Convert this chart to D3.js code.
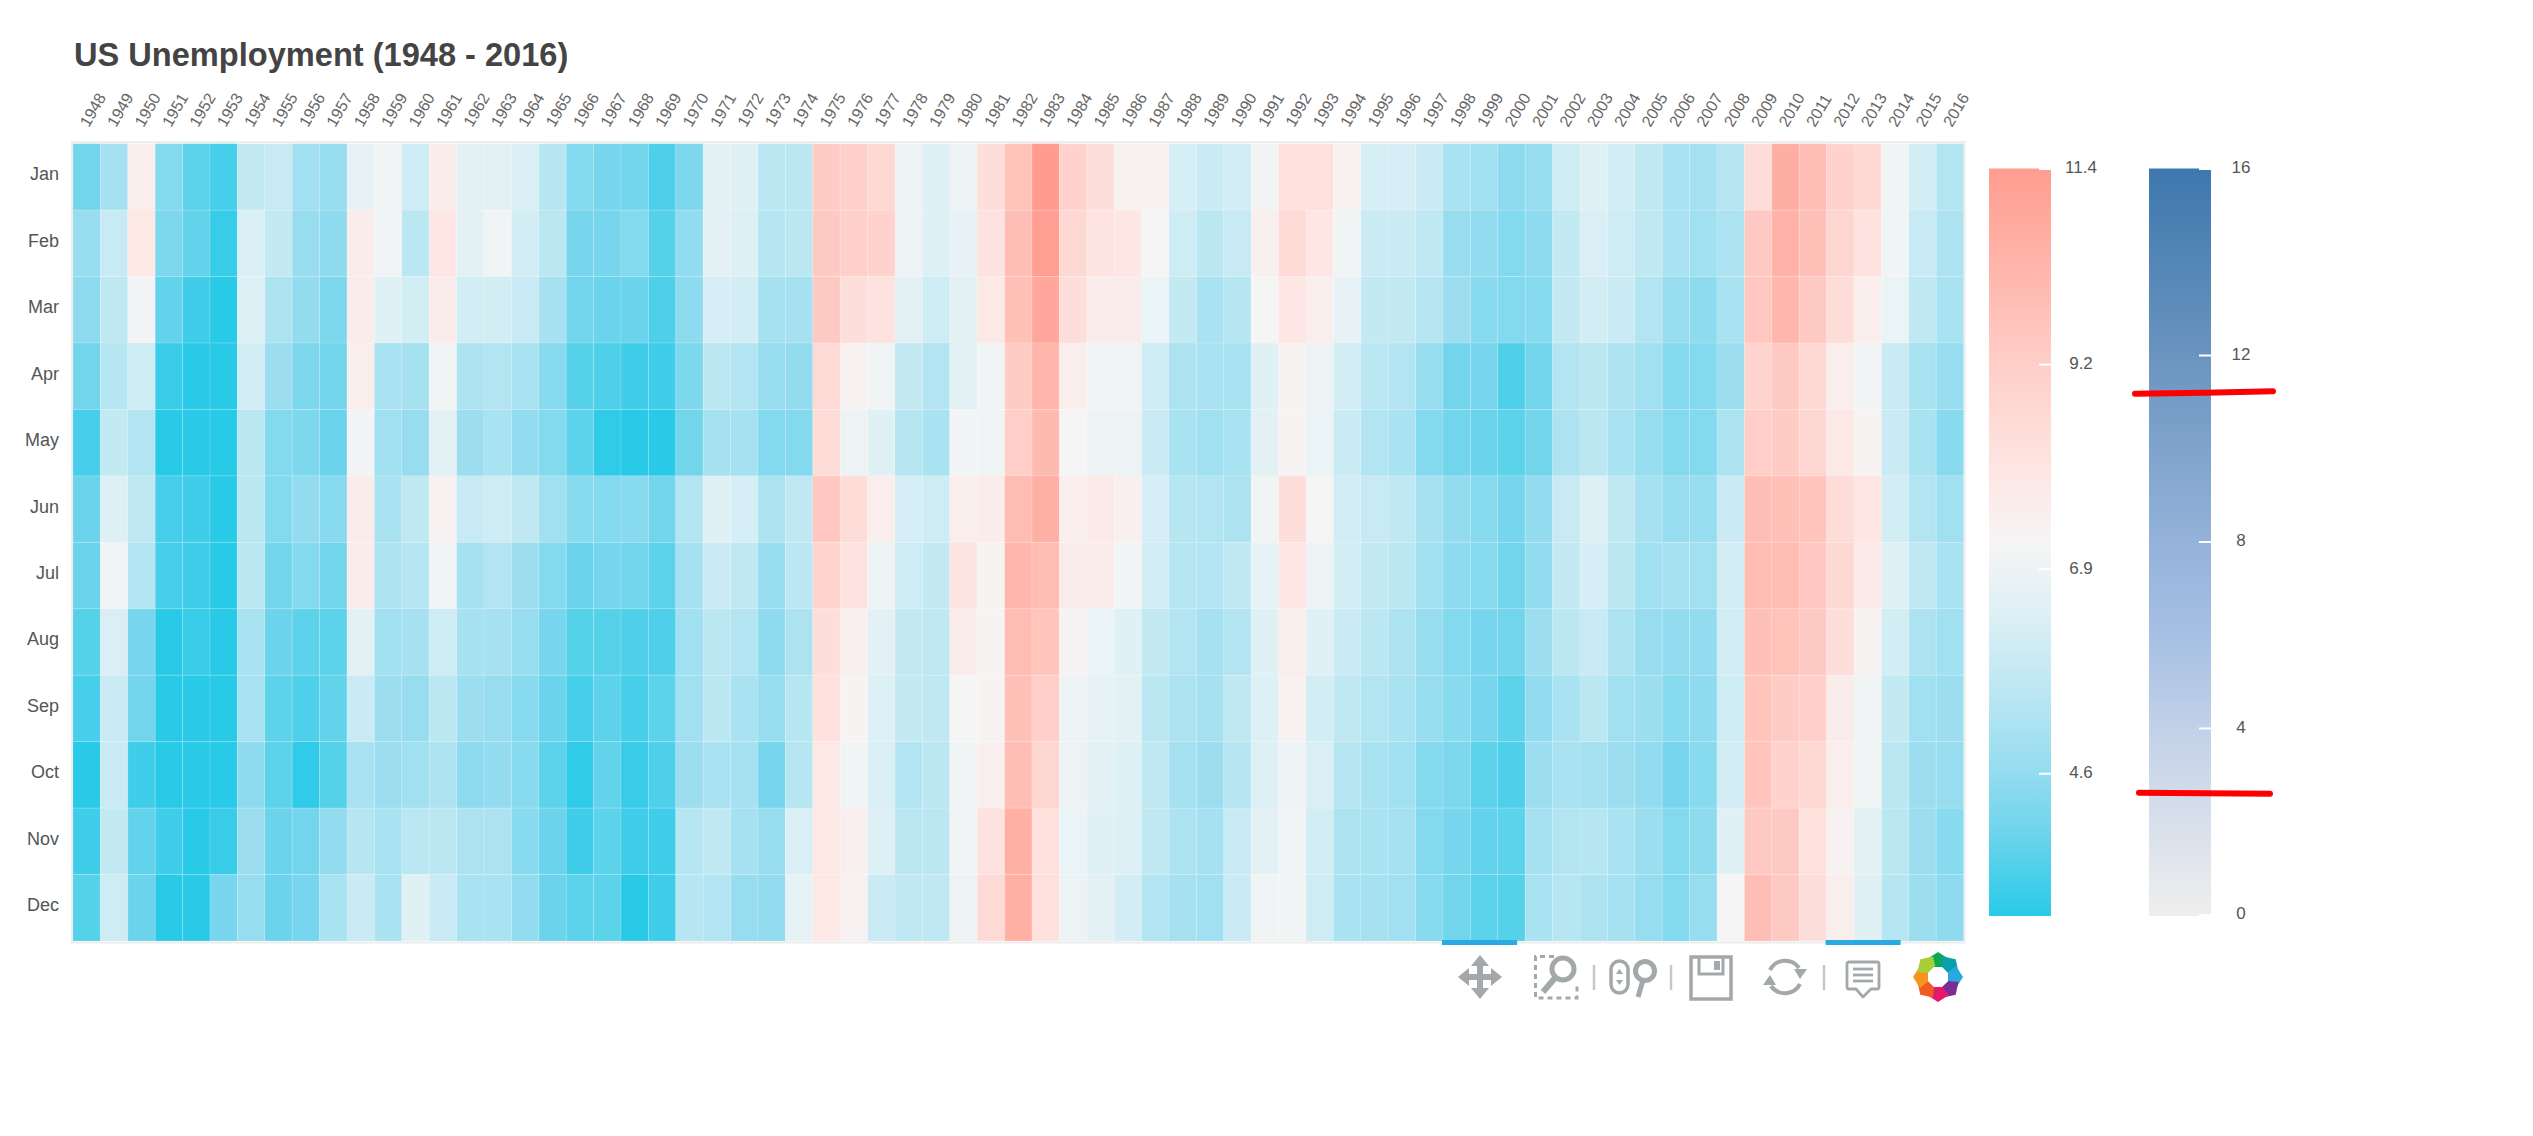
<!DOCTYPE html>
<html>
<head>
<meta charset="utf-8">
<title>US Unemployment (1948 - 2016)</title>
<script src="https://cdn.jsdelivr.net/npm/d3@7/dist/d3.min.js"></script>
<style>
html,body{margin:0;padding:0;background:#fff;overflow:hidden}
svg{display:block;font-family:"Liberation Sans",Arial,sans-serif}
.axis path,.axis line{display:none}
</style>
</head>
<body>
<svg id="c" width="2533" height="1136"></svg>
<script>
const chartTitle = "US Unemployment (1948 - 2016)";
const months = ["Jan","Feb","Mar","Apr","May","Jun","Jul","Aug","Sep","Oct","Nov","Dec"];
const years = d3.range(1948, 2017).map(String);
const rates = [
[4.0,4.7,4.5,4.0,3.4,3.9,3.9,3.6,3.4,2.9,3.3,3.6],
[5.0,5.8,5.6,5.4,5.7,6.4,7.0,6.3,5.9,5.9,5.7,6.0],
[7.6,7.9,7.1,6.0,5.3,5.6,5.3,4.1,4.0,3.3,3.8,3.9],
[4.3,4.2,3.8,3.2,2.9,3.4,3.4,3.0,2.9,2.9,3.3,2.9],
[3.7,3.8,3.3,2.9,2.9,3.3,3.3,3.2,2.9,2.9,2.9,2.9],
[3.4,3.2,2.9,2.9,2.9,2.9,2.9,2.9,2.9,2.9,3.2,4.1],
[5.7,6.3,6.4,6.1,5.5,5.5,5.5,5.1,5.1,4.5,4.8,4.7],
[5.8,5.7,5.2,4.8,4.3,4.3,4.0,3.9,3.7,3.7,3.9,3.9],
[4.9,4.7,4.6,4.2,4.2,4.6,4.3,3.7,3.5,3.1,4.0,4.1],
[4.7,4.5,4.2,4.0,3.9,4.4,4.0,3.7,3.8,3.6,4.6,5.1],
[6.7,7.7,7.7,7.6,7.1,7.7,7.7,6.6,5.9,5.1,5.4,5.9],
[7.0,7.0,6.5,5.1,4.9,5.1,5.2,4.9,4.8,4.8,5.1,5.1],
[6.0,5.5,6.1,5.0,4.7,5.6,5.4,5.0,4.7,4.9,5.5,6.5],
[7.7,8.0,7.7,7.0,6.6,7.4,7.0,6.0,5.5,5.2,5.5,5.8],
[6.6,6.6,6.1,5.2,4.8,5.8,5.0,5.0,4.8,4.5,5.2,5.1],
[6.6,7.0,6.1,5.3,5.1,6.0,5.3,5.0,4.7,4.6,5.2,5.1],
[6.3,6.1,5.8,5.1,4.6,5.6,4.8,4.7,4.4,4.4,4.4,4.6],
[5.4,5.5,5.0,4.4,4.3,4.9,4.3,4.1,3.9,3.7,3.9,3.9],
[4.3,4.1,4.0,3.6,3.7,4.4,3.9,3.6,3.4,3.1,3.3,3.7],
[4.1,4.1,3.9,3.5,3.1,4.3,4.1,3.6,3.7,3.8,3.7,3.7],
[4.0,4.3,3.9,3.3,2.9,4.4,4.0,3.5,3.4,3.2,3.3,3.0],
[3.5,3.6,3.5,3.3,2.9,4.0,3.7,3.5,3.7,3.5,3.3,3.3],
[4.2,4.6,4.5,4.2,4.0,5.3,5.0,4.9,4.9,4.8,5.4,5.4],
[6.6,6.6,6.2,5.5,5.0,6.5,5.9,5.5,5.5,5.1,5.6,5.3],
[6.5,6.4,6.1,5.3,5.0,6.2,5.6,5.3,5.1,5.0,5.0,4.7],
[5.5,5.4,5.0,4.7,4.3,5.2,4.7,4.5,4.7,4.1,4.7,4.6],
[5.5,5.5,5.0,4.6,4.3,5.6,5.5,5.2,5.4,5.4,6.3,6.7],
[9.3,9.4,9.4,8.6,8.5,9.5,8.9,8.4,8.3,7.9,7.9,7.9],
[9.1,9.1,8.4,7.4,6.9,8.5,8.2,7.5,7.3,7.0,7.5,7.4],
[8.7,9.0,8.2,7.0,6.5,7.6,6.9,6.6,6.4,6.3,6.4,5.9],
[6.9,6.9,6.6,5.7,5.4,6.2,6.0,5.7,5.7,5.3,5.5,5.6],
[6.4,6.4,6.0,5.3,5.1,6.0,5.7,5.6,5.6,5.5,5.5,5.6],
[6.9,6.7,6.6,6.6,7.1,7.6,8.1,7.7,7.2,7.0,7.0,6.9],
[8.4,8.2,7.9,7.0,7.0,7.7,7.3,7.3,7.3,7.5,8.2,8.6],
[9.7,9.9,9.8,9.3,9.2,10.0,10.2,10.0,9.8,9.9,10.5,10.5],
[11.4,11.3,10.9,10.3,10.1,10.5,10.0,9.6,9.2,8.8,8.3,8.3],
[9.0,8.7,8.4,7.6,7.2,7.6,7.7,7.3,6.9,6.9,6.8,6.9],
[8.4,8.1,7.7,7.0,6.9,7.8,7.7,6.8,6.7,6.6,6.5,6.6],
[7.4,8.0,7.7,7.0,6.9,7.5,7.1,6.5,6.6,6.4,6.4,6.1],
[7.4,7.2,6.8,6.0,5.9,6.2,6.1,5.7,5.5,5.6,5.6,5.3],
[6.2,6.0,5.7,5.2,5.1,5.4,5.4,5.3,5.2,5.0,5.2,5.0],
[5.9,5.5,5.1,5.1,4.9,5.3,5.3,5.0,5.0,4.8,5.0,4.9],
[6.1,5.8,5.4,5.1,5.1,5.2,5.6,5.3,5.6,5.4,5.8,5.9],
[7.0,7.5,7.2,6.5,6.6,7.0,6.7,6.5,6.4,6.4,6.6,7.0],
[8.3,8.6,8.0,7.3,7.3,8.4,8.0,7.6,7.4,6.9,7.0,7.0],
[8.3,8.0,7.6,6.9,6.8,7.2,6.9,6.5,6.1,6.3,6.1,6.0],
[7.4,7.0,6.7,6.1,5.9,6.1,6.1,5.9,5.6,5.4,5.2,5.1],
[6.2,5.9,5.7,5.5,5.3,5.8,5.7,5.5,5.3,5.1,5.1,5.0],
[6.2,5.9,5.7,5.3,5.1,5.6,5.5,5.2,5.1,4.9,5.0,4.9],
[5.9,5.6,5.4,4.7,4.3,5.0,4.9,4.7,4.7,4.3,4.3,4.4],
[5.1,4.7,4.8,4.0,4.0,4.6,4.5,4.3,4.4,4.2,4.1,4.0],
[4.9,4.6,4.4,4.1,3.9,4.4,4.4,4.1,4.1,3.7,3.8,3.7],
[4.5,4.3,4.3,3.5,3.7,4.1,4.0,4.0,3.7,3.5,3.7,3.6],
[4.7,4.5,4.4,4.0,4.0,4.6,4.6,4.8,4.6,4.8,5.0,5.1],
[6.0,5.7,5.7,5.3,5.2,5.8,5.7,5.5,5.1,5.1,5.3,5.4],
[6.5,6.3,6.1,5.5,5.5,6.4,6.2,5.8,5.5,5.0,5.4,5.2],
[6.1,6.0,5.9,5.2,5.1,5.6,5.5,5.2,4.9,4.8,5.1,5.0],
[5.6,5.6,5.3,4.9,4.7,5.0,4.9,4.7,4.8,4.6,4.8,4.7],
[5.1,5.1,4.7,4.3,4.3,4.7,5.0,4.6,4.4,4.1,4.3,4.3],
[5.0,4.9,4.5,4.3,4.3,4.7,4.9,4.6,4.5,4.4,4.5,4.7],
[5.4,5.2,5.1,4.8,5.2,5.9,6.1,6.1,6.0,6.1,6.5,7.2],
[8.5,9.4,9.5,8.9,9.2,9.9,10.0,9.8,9.6,9.6,9.4,9.9],
[10.6,10.4,10.2,9.4,9.3,9.8,10.0,9.7,9.3,9.0,9.4,9.4],
[9.9,9.8,9.4,8.7,8.8,9.6,9.5,9.4,9.1,8.7,8.3,8.4],
[9.0,8.8,8.5,7.6,7.9,8.5,8.7,8.4,7.7,7.6,7.4,7.6],
[8.7,8.2,7.6,7.1,7.3,8.0,7.8,7.3,7.0,7.0,6.6,6.5],
[7.0,7.0,6.8,5.9,5.9,6.1,6.5,6.1,5.7,5.5,5.5,5.4],
[6.1,5.8,5.6,5.1,5.1,5.3,5.6,5.2,4.9,4.8,4.8,4.8],
[5.3,5.2,5.1,4.7,4.4,4.9,5.1,4.9,4.8,4.7,4.4,4.5]
];

// colour ramps
const rateStops   = [3.0,4.0,4.6,5.6,6.4,7.2,8.0,9.2,10.3,11.4];
const rateColors  = ["#29cae8","#72d5ec","#93dcef","#bfe8f3","#ddf0f5","#f6f5f5","#fde6e3","#ffcec8","#ffb5aa","#ff9c90"];
const rateTicks   = [4.6,6.9,9.2,11.4];
const rangeStops  = [0,4,6,8,12,16];
const rangeColors = ["#eeeeee","#c2d1e8","#a6c0e3","#94b2da","#6a94bf","#3d78ae"];
const rangeTicks  = [0,4,8,12,16];
const handleValues = [11.2,2.6];
const selectionYears = ["1998","2012"];

const svg = d3.select("#c");
const x = d3.scaleBand().domain(years).range([73,1963.6]);
const y = d3.scaleBand().domain(months).range([143.7,941]);
const color = d3.scaleLinear().domain(rateStops).range(rateColors).clamp(true);

svg.append("text").attr("x",74).attr("y",66).attr("fill","#444")
  .attr("font-size",32.6).attr("font-weight",700).text(chartTitle);

// plot frame
svg.append("rect").attr("x",72).attr("y",142.2).attr("width",1892.6).attr("height",800.3)
  .attr("fill","none").attr("stroke","#ececec").attr("stroke-width",2);

// cells
const cols = svg.append("g").selectAll("g").data(rates).join("g");
cols.selectAll("rect").data((d,i)=>d.map((v,m)=>({v,m,i}))).join("rect")
  .attr("x",d=>x(years[d.i])).attr("y",d=>y(months[d.m]))
  .attr("width",x.bandwidth()).attr("height",y.bandwidth())
  .attr("fill",d=>color(d.v))
  .attr("stroke","#ffffff").attr("stroke-opacity",0.15).attr("stroke-width",1);

// axes
const ax = svg.append("g").attr("class","axis").attr("transform","translate(0,128)")
  .call(d3.axisTop(x).tickSize(0).tickPadding(0));
ax.selectAll("text").attr("font-size",16).attr("fill","#666").attr("font-family","inherit")
  .attr("text-anchor","start").attr("dy",0).attr("y",0)
  .attr("transform","translate(2,0) rotate(-60)");
const ay = svg.append("g").attr("class","axis").attr("transform","translate(59,-2.5)")
  .call(d3.axisLeft(y).tickSize(0).tickPadding(0));
ay.selectAll("text").attr("font-size",18).attr("fill","#555").attr("font-family","inherit").attr("dy","0.33em");

// colour bars
const defs = svg.append("defs");
function bar(id,x0,stops,colors,dom,ticks,fmt,labelX){
  const s = d3.scaleLinear().domain(dom).range([dom[0]===0?915:916,169]);
  const g = defs.append("linearGradient").attr("id",id).attr("x1",0).attr("x2",0).attr("y1",1).attr("y2",0);
  stops.forEach((v,i)=>g.append("stop")
    .attr("offset",(v-dom[0])/(dom[1]-dom[0])).attr("stop-color",colors[i]));
  svg.append("rect").attr("x",x0).attr("y",168.5).attr("width",62).attr("height",747.5).attr("fill",`url(#${id})`);
  const t = svg.append("g");
  t.selectAll("line").data(ticks).join("line")
    .attr("x1",x0+50).attr("x2",x0+62).attr("y1",d=>s(d)).attr("y2",d=>s(d))
    .attr("stroke","#fff").attr("stroke-width",2);
  t.selectAll("text").data(ticks).join("text")
    .attr("x",labelX).attr("y",d=>s(d)-1.5).attr("dy","0.35em").attr("text-anchor","middle")
    .attr("font-size",17).attr("fill","#555").text(fmt);
  return s;
}
bar("g1",1989,rateStops,rateColors,[3.0,11.4],rateTicks,d=>d.toFixed(1),2081);
const rs = bar("g2",2149,rangeStops,rangeColors,[0,16],rangeTicks,d=>d,2241);

// range handles on the second bar
svg.append("g").selectAll("path").data(handleValues).join("path")
  .attr("d",(d,i)=>i===0
    ? `M2135 ${rs(d)+1}L2205 ${rs(d)}L2273 ${rs(d)-1.5}`
    : `M2139 ${rs(d)-1}L2205 ${rs(d)-0.5}L2270 ${rs(d)}`)
  .attr("fill","none").attr("stroke","#f00").attr("stroke-width",6).attr("stroke-linecap","round");

// selection markers under the plot
svg.append("g").selectAll("rect").data(selectionYears).join("rect")
  .attr("x",d=>x(d)-1).attr("y",940).attr("height",5)
  .attr("width",x.bandwidth()*2.74).attr("fill","#29abe2");

// toolbar
const grey = "#a3a8aa";
const tb = svg.append("g").attr("fill","none").attr("stroke",grey).attr("stroke-width",4);
// move
tb.append("path").attr("transform","translate(1480,977)").attr("stroke","none").attr("fill",grey)
  .attr("d","M0-22L9-11H3V-3H11V-9L22 0L11 9V3H3V11H9L0 22L-9 11H-3V3H-11V9L-22 0L-11-9V-3H-3V-11H-9Z");
// box zoom
const bz = tb.append("g").attr("transform","translate(1534,955)");
bz.append("path").attr("stroke-width",3).attr("stroke-dasharray","5 4").attr("d","M20 1.5H1.5V43H43V31");
bz.append("circle").attr("cx",29).attr("cy",14).attr("r",11).attr("stroke-width",5);
bz.append("path").attr("stroke-width",6).attr("d","M21 23L9 37");
// separators
tb.selectAll("path.sep").data([1594,1671,1824]).join("path").attr("class","sep")
  .attr("stroke","#c4c8ca").attr("stroke-width",2.5).attr("d",d=>`M${d} 965V990`);
// wheel zoom
const wz = tb.append("g").attr("transform","translate(1610,960)");
wz.append("rect").attr("x",1).attr("y",1).attr("width",17).attr("height",32).attr("rx",8.5).attr("stroke-width",3.5);
wz.append("path").attr("stroke","none").attr("fill",grey).attr("d","M9.5 9L13 14H6ZM9.5 25L6 20H13Z");
wz.append("circle").attr("cx",35).attr("cy",11).attr("r",9.5).attr("stroke-width",5);
wz.append("path").attr("stroke-width",5).attr("d","M33 20L28 37");
// save
const sv = tb.append("g").attr("transform","translate(1689,955)");
sv.append("rect").attr("x",2).attr("y",2).attr("width",40).attr("height",42).attr("stroke-width",3.5);
sv.append("path").attr("stroke-width",3).attr("d","M10 2V19H34V2");
sv.append("rect").attr("x",25).attr("y",6).attr("width",6).attr("height",9).attr("fill",grey).attr("stroke","none");
// reset
const rf = tb.append("g").attr("transform","translate(1785,977)");
rf.append("path").attr("stroke-width",4).attr("d","M-15-7A17 17 0 0 1 14-9M15 7A17 17 0 0 1-14 9");
rf.append("path").attr("stroke","none").attr("fill",grey).attr("d","M9-8H22L15 2ZM-22 8H-9L-15-2Z");
// comment
tb.append("path").attr("transform","translate(1846,961)").attr("stroke-width",2.8).attr("stroke-linejoin","round")
  .attr("d","M3 1H31Q33 1 33 3V26Q33 28 31 28H25L17 36L10 28H3Q1 28 1 26V3Q1 1 3 1Z");
tb.append("g").attr("transform","translate(1846,961)").selectAll("path").data([8,14,20]).join("path")
  .attr("stroke-width",2.8).attr("d",d=>`M7 ${d}H27`);
// logo
const logoColors = ["#0aa858","#0a9fae","#29a9e0","#7b2d96","#e5186e","#f15a22","#f7941d","#a6ce39"];
const logo = svg.append("g").attr("transform","translate(1938,977)");
logo.selectAll("path").data(logoColors).join("path")
  .attr("d","M-4.5-10L6-10L11-18L0-25L-11-18Z")
  .attr("fill",d=>d).attr("transform",(d,i)=>`rotate(${i*45})`);
</script>
</body>
</html>
